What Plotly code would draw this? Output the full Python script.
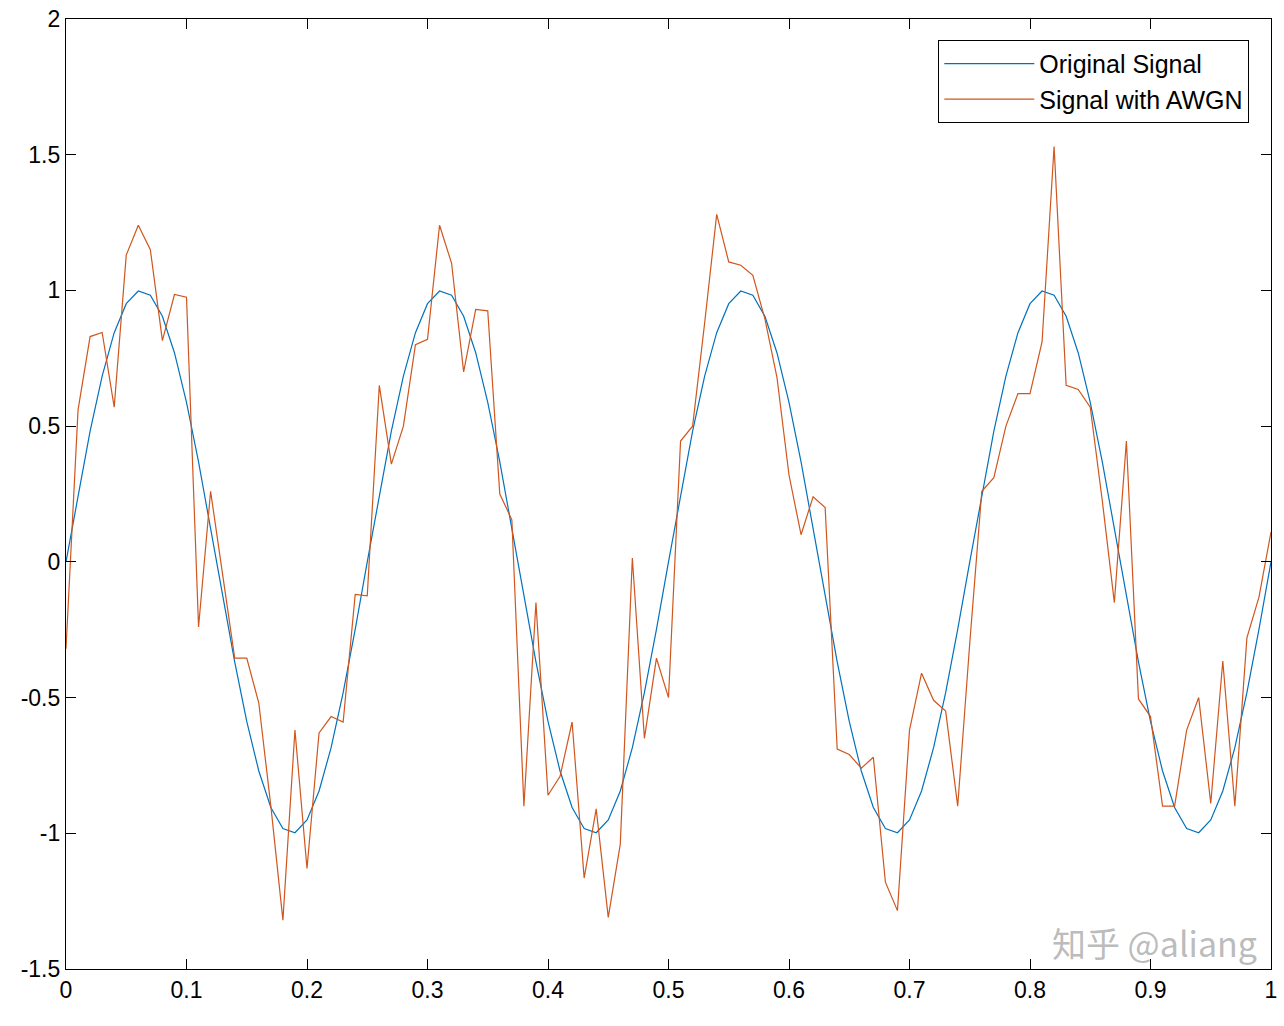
import plotly.graph_objects as go

t = [round(i * 0.01, 2) for i in range(101)]
original = [
    0, .2487, .4818, .6845, .8443, .9511, .9980, .9823, .9048, .7705, .5878, .3681, .1253, -.1253, -.3681,
    -.5878, -.7705, -.9048, -.9823, -.9980, -.9511, -.8443, -.6845, -.4818, -.2487,
    0, .2487, .4818, .6845, .8443, .9511, .9980, .9823, .9048, .7705, .5878, .3681, .1253, -.1253, -.3681,
    -.5878, -.7705, -.9048, -.9823, -.9980, -.9511, -.8443, -.6845, -.4818, -.2487,
    0, .2487, .4818, .6845, .8443, .9511, .9980, .9823, .9048, .7705, .5878, .3681, .1253, -.1253, -.3681,
    -.5878, -.7705, -.9048, -.9823, -.9980, -.9511, -.8443, -.6845, -.4818, -.2487,
    0, .2487, .4818, .6845, .8443, .9511, .9980, .9823, .9048, .7705, .5878, .3681, .1253, -.1253, -.3681,
    -.5878, -.7705, -.9048, -.9823, -.9980, -.9511, -.8443, -.6845, -.4818, -.2487,
    0,
]
noisy = [
    -0.32, 0.56, 0.83, 0.845, 0.57, 1.13, 1.24, 1.15, 0.815, 0.985,
    0.975, -0.24, 0.26, -0.04, -0.355, -0.355, -0.52, -0.90, -1.32, -0.62,
    -1.13, -0.63, -0.57, -0.59, -0.12, -0.125, 0.65, 0.36, 0.50, 0.80,
    0.82, 1.24, 1.10, 0.70, 0.93, 0.925, 0.25, 0.155, -0.90, -0.15,
    -0.86, -0.79, -0.59, -1.165, -0.91, -1.31, -1.04, 0.014, -0.65, -0.355,
    -0.50, 0.445, 0.50, 0.88, 1.28, 1.105, 1.093, 1.056, 0.895, 0.68,
    0.32, 0.10, 0.24, 0.20, -0.69, -0.71, -0.76, -0.72, -1.18, -1.285,
    -0.62, -0.41, -0.51, -0.55, -0.90, -0.30, 0.26, 0.31, 0.50, 0.62,
    0.62, 0.81, 1.53, 0.65, 0.635, 0.57, 0.225, -0.15, 0.445, -0.505,
    -0.57, -0.90, -0.90, -0.62, -0.50, -0.89, -0.365, -0.90, -0.28, -0.13,
    0.11,
]
xticks = [0, 0.1, 0.2, 0.3, 0.4, 0.5, 0.6, 0.7, 0.8, 0.9, 1]
xticklabels = ["0", "0.1", "0.2", "0.3", "0.4", "0.5", "0.6", "0.7", "0.8", "0.9", "1"]
yticks = [-1.5, -1, -0.5, 0, 0.5, 1, 1.5, 2]
yticklabels = ["-1.5", "-1", "-0.5", "0", "0.5", "1", "1.5", "2"]

fig = go.Figure()
fig.add_trace(go.Scatter(x=t, y=original, mode="lines", name="Original Signal",
                         line=dict(color="#0072BD", width=1.2)))
fig.add_trace(go.Scatter(x=t, y=noisy, mode="lines", name="Signal with AWGN",
                         line=dict(color="#D0561E", width=1.2)))

axis_common = dict(showgrid=False, zeroline=False, showline=True, linecolor="black", linewidth=1.2,
                   mirror="allticks", ticks="inside", ticklen=10, tickcolor="black", automargin=False,
                   tickfont=dict(size=23, color="black", family="Liberation Sans"))
fig.update_xaxes(range=[0, 1], tickvals=xticks, ticktext=xticklabels, **axis_common)
fig.update_yaxes(range=[-1.5, 2], tickvals=yticks, ticktext=yticklabels, **axis_common)

fig.update_layout(
    width=1284, height=1026, margin=dict(l=66, r=13, t=19, b=57, autoexpand=False),
    plot_bgcolor="white", paper_bgcolor="white",
    font=dict(family="Liberation Sans", size=25, color="black"),
    legend=dict(x=0.982, y=0.978, xanchor="right", yanchor="top", bordercolor="black", borderwidth=1,
                bgcolor="white", font=dict(size=25), tracegroupgap=0, itemwidth=90),
    showlegend=True,
)
fig.add_annotation(text="知乎 @aliang", x=0.99, y=0.0, xref="paper", yref="paper", showarrow=False,
                   xanchor="right", yanchor="bottom",
                   font=dict(size=34, color="rgba(170,170,170,0.8)", family="Noto Sans CJK SC"))
fig.write_html("out.html", config={"displayModeBar": False},
               post_script="document.body.style.margin='0';document.body.style.overflow='hidden';")
